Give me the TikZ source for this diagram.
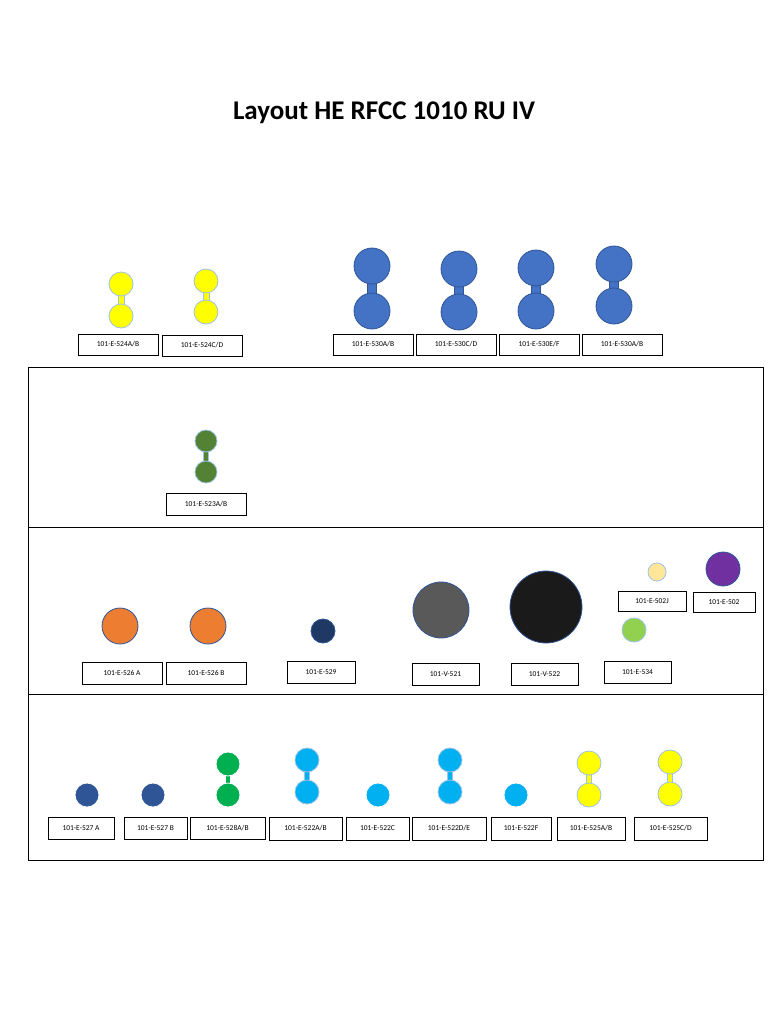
\documentclass[tikz,border=0pt]{standalone}
\usepackage{fontspec}
\setmainfont{Carlito}
\begin{document}
\begin{tikzpicture}[x=1pt,y=-1pt,
  lbl/.style={draw=black,thick,fill=white,inner sep=0pt,font=\fontsize{7.5}{8}\selectfont},
  ves/.style={circle,inner sep=0pt},
  frame/.style={draw=black,thick}]
\useasboundingbox (0,0) rectangle (768,1024);
% helper: box label
\newcommand{\lab}[6]{\node[lbl,minimum width=#3-#2,minimum height=#5-#4] (#1) at ({(#2+#3)/2},{(#4+#5)/2}) {#6};}
% dumbbell: name, x, ytop, ybot, r, fill, stroke, barwidth
\newcommand{\dumb}[8]{%
  \fill[#6,draw=#7] ({#2-#8/2},#3) rectangle ({#2+#8/2},#4);
  \node[ves,fill=#6,draw=#7,thick,minimum size=2*#5] (#1t) at (#2,#3) {};
  \node[ves,fill=#6,draw=#7,thick,minimum size=2*#5] (#1b) at (#2,#4) {};}
\newcommand{\ves}[6]{\node[ves,fill=#5,draw=#6,thick,minimum size=2*#4] (#1) at (#2,#3) {};}
\definecolor{yel}{HTML}{FFFF00}\definecolor{yelS}{HTML}{9DC3E6}
\definecolor{blu}{HTML}{4472C4}\definecolor{bluS}{HTML}{2F5597}
\definecolor{grn}{HTML}{548235}\definecolor{org}{HTML}{ED7D31}
\definecolor{nav}{HTML}{1F3864}\definecolor{gry}{HTML}{595959}
\definecolor{blk}{HTML}{1A1A1A}\definecolor{cream}{HTML}{FFE699}
\definecolor{pur}{HTML}{7030A0}\definecolor{lgr}{HTML}{92D050}
\definecolor{dblu}{HTML}{2F5597}\definecolor{gr2}{HTML}{00B050}
\definecolor{cya}{HTML}{00B0F0}
\node[font=\bfseries\fontsize{27}{30}\selectfont] (title) at (384,113) {Layout HE RFCC 1010 RU IV};
% frames
\draw[frame] (28,367) rectangle (763,860);
\draw[frame] (28,527) -- (763,527);
\draw[frame] (28,694) -- (763,694);
% top row
\dumb{a}{121}{284}{316}{12}{yel}{yelS}{6}
\dumb{b}{206}{281}{312}{12}{yel}{yelS}{6}
\dumb{c}{372}{266}{311}{18}{blu}{bluS}{9}
\dumb{d}{459}{269}{312}{18}{blu}{bluS}{9}
\dumb{e}{536}{268}{311}{18}{blu}{bluS}{9}
\dumb{f}{614}{264}{306}{18}{blu}{bluS}{9}
\lab{la}{78}{158}{334}{355}{101-E-524A/B}
\lab{lb}{162}{242}{335}{356}{101-E-524C/D}
\lab{lc}{333}{413}{334}{355}{101-E-530A/B}
\lab{ld}{416}{496}{334}{355}{101-E-530C/D}
\lab{le}{499}{579}{334}{355}{101-E-530E/F}
\lab{lf}{582}{662}{334}{355}{101-E-530A/B}
% section 1
\dumb{g}{206}{441}{472}{11}{grn}{yelS}{5}
\lab{lg}{166}{246}{493}{515}{101-E-523A/B}
% section 2
\ves{h}{120}{626}{18}{org}{bluS}
\ves{i}{208}{626}{18}{org}{bluS}
\ves{j}{323}{631}{12}{nav}{bluS}
\ves{k}{441}{610}{28}{gry}{bluS}
\ves{l}{546}{607}{36}{blk}{bluS}
\ves{m}{657}{572}{9}{cream}{yelS}
\ves{n}{723}{569}{17}{pur}{bluS}
\ves{o}{634}{630}{12}{lgr}{yelS}
\lab{lh}{82}{162}{662}{684}{101-E-526 A}
\lab{li}{166}{246}{662}{684}{101-E-526 B}
\lab{lj}{287}{355}{661}{683}{101-E-529}
\lab{lk}{412}{479}{663}{685}{101-V-521}
\lab{ll}{511}{578}{663}{685}{101-V-522}
\lab{lm}{618}{686}{591}{611}{101-E-502J}
\lab{ln}{693}{755}{592}{612}{101-E-502}
\lab{lo}{604}{671}{661}{683}{101-E-534}
% section 3
\ves{p}{87}{795}{12}{dblu}{white}
\ves{q}{153}{795}{12}{dblu}{white}
\dumb{r}{228}{764}{795}{12}{gr2}{white}{5}
\dumb{s}{307}{760}{792}{12}{cya}{yelS}{5}
\ves{t}{378}{795}{12}{cya}{white}
\dumb{u}{450}{760}{792}{12}{cya}{yelS}{5}
\ves{v}{516}{795}{12}{cya}{white}
\dumb{w}{589}{763}{795}{12}{yel}{yelS}{5}
\dumb{z}{670}{762}{794}{12}{yel}{yelS}{5}
\lab{lp}{48}{114}{817}{839}{101-E-527 A}
\lab{lq}{124}{187}{817}{839}{101-E-527 B}
\lab{lr}{190}{265}{817}{839}{101-E-528A/B}
\lab{ls}{269}{342}{817}{840}{101-E-522A/B}
\lab{lt}{346}{409}{817}{840}{101-E-522C}
\lab{lu}{412}{486}{817}{840}{101-E-522D/E}
\lab{lv}{491}{551}{817}{840}{101-E-522F}
\lab{lw}{557}{625}{817}{840}{101-E-525A/B}
\lab{lz}{634}{707}{817}{840}{101-E-525C/D}
\end{tikzpicture}
\end{document}
